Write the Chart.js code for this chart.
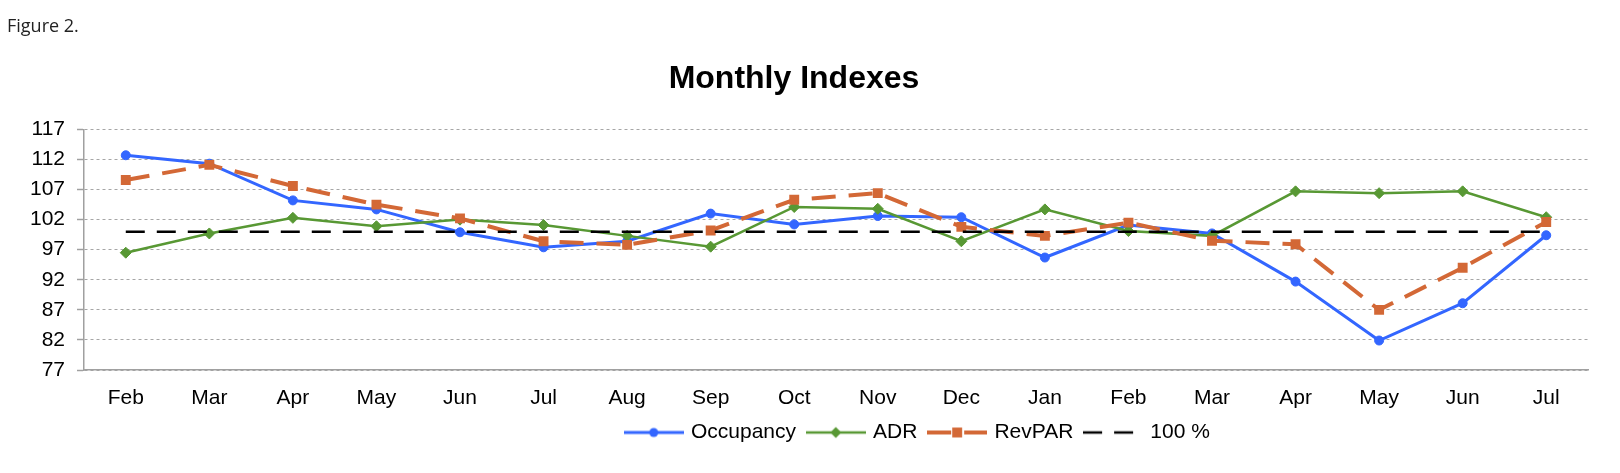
<!DOCTYPE html>
<html>
<head>
<meta charset="utf-8">
<title>Monthly Indexes</title>
<script src="https://cdn.jsdelivr.net/npm/chart.js@4.4.1/dist/chart.umd.min.js"></script>
<style>
    body { margin: 0; background: #fff; }
    #wrap { position: relative; width: 1620px; height: 473px; }
    #caption {
        position: absolute; left: 7px; top: 13px;
        font-family: "Open Sans", "Noto Sans", sans-serif; font-size: 18px; color: #222;
    }
</style>
</head>
<body>
<div id="wrap">
    <canvas id="indexChart"></canvas>
    <div id="caption">Figure 2.</div>
</div>
<script>
const months = ["Feb", "Mar", "Apr", "May", "Jun", "Jul", "Aug", "Sep", "Oct", "Nov", "Dec", "Jan", "Feb", "Mar", "Apr", "May", "Jun", "Jul"];

const occupancy = [112.7, 111.3, 105.2, 103.7, 99.9, 97.4, 98.4, 103.0, 101.2, 102.6, 102.4, 95.7, 101.1, 99.7, 91.7, 81.9, 88.1, 99.4];
const adr = [96.5, 99.7, 102.3, 100.9, 102.0, 101.1, 99.3, 97.5, 104.1, 103.8, 98.4, 103.7, 100.1, 99.3, 106.7, 106.4, 106.7, 102.4];
const revpar = [108.6, 111.1, 107.6, 104.5, 102.2, 98.4, 97.8, 100.2, 105.3, 106.4, 100.8, 99.3, 101.5, 98.5, 97.9, 87.0, 94.0, 101.6];
const hundred = [100, 100, 100, 100, 100, 100, 100, 100, 100, 100, 100, 100, 100, 100, 100, 100, 100, 100];

const yTicks = { min: 77, max: 117, step: 5 };

const FONT = "'Liberation Sans', Arial, sans-serif";
const legendLeft = 614;

const datasets = [
    {
        label: "Occupancy", data: occupancy,
        borderColor: "#3366ff", backgroundColor: "#3366ff", borderWidth: 3,
        pointStyle: "circle", pointRadius: 4.5, pointBorderWidth: 1,
        order: 4
    },
    {
        label: "ADR", data: adr,
        borderColor: "#589834", backgroundColor: "#589834", borderWidth: 2.5,
        pointStyle: "rectRot", pointRadius: 5.5, pointBorderWidth: 1,
        order: 3
    },
    {
        label: "RevPAR", data: revpar,
        borderColor: "#d36836", backgroundColor: "#d36836", borderWidth: 4,
        borderDash: [24, 13],
        pointStyle: "rect", pointRadius: 7, pointBorderWidth: 0,
        order: 2
    },
    {
        label: "100 %", data: hundred,
        borderColor: "#000", backgroundColor: "#000", borderWidth: 2.5,
        borderDash: [19, 12],
        pointRadius: 0,
        order: 1
    }
];

datasets.forEach(ds => { ds.tension = 0; ds.fill = false; ds.pointHoverRadius = ds.pointRadius; });


// small canvas with line + marker, used as legend symbol
function makeIcon(ds) {
    const c = document.createElement("canvas");
    c.width = 60;
    c.height = 16;
    const ctx = c.getContext("2d");
    ctx.strokeStyle = ds.borderColor;
    ctx.fillStyle = ds.backgroundColor;
    ctx.lineWidth = ds.borderWidth;
    ctx.setLineDash(ds.borderDash || []);
    ctx.beginPath();
    ctx.moveTo(0, 8);
    ctx.lineTo(60, 8);
    ctx.stroke();
    ctx.setLineDash([]);
    if (ds.pointRadius > 0) {
        Chart.helpers.drawPoint(ctx, {
            pointStyle: ds.pointStyle, radius: ds.pointRadius, rotation: 0, borderWidth: 0
        }, 30, 8);
    }
    return c;
}

const shiftLegend = {
    id: "shiftLegend",
    afterLayout(chart) {
        const lg = chart.legend;
        const dx = legendLeft - lg.left;
        lg.left += dx;
        lg.right += dx;
    }
};

const chart = new Chart(document.getElementById("indexChart"), {
    type: "line",
    data: { labels: months, datasets: datasets },
    plugins: [shiftLegend],
    options: {
        responsive: true,
        maintainAspectRatio: false,
        animation: false,
        layout: { padding: { left: 0, right: 32, top: 0, bottom: 20 } },
        plugins: {
            title: {
                display: true,
                text: "Monthly Indexes",
                color: "#000",
                font: { family: FONT, size: 32, weight: "bold" },
                padding: { top: 60, bottom: 31 }
            },
            legend: {
                position: "bottom",
                align: "start",
                labels: {
                    usePointStyle: true,
                    pointStyleWidth: 53.5,
                    padding: 13,
                    color: "#000",
                    font: { family: FONT, size: 21, lineHeight: 1 },
                    generateLabels(ch) {
                        return ch.data.datasets.map((ds, i) => ({
                            text: ds.label,
                            pointStyle: makeIcon(ds),
                            fontColor: "#000",
                            lineWidth: 0,
                            hidden: false,
                            datasetIndex: i
                        }));
                    }
                }
            },
            tooltip: { enabled: false }
        },
        scales: {
            x: {
                offset: true,
                grid: { display: false },
                border: { display: true, color: "#a0a0a0", width: 1.5 },
                ticks: {
                    color: "#000", padding: 10, maxRotation: 0, autoSkip: false,
                    font: { family: FONT, size: 21, lineHeight: 1 }
                },
                afterFit(scale) { scale.height -= 10; }
            },
            y: {
                min: yTicks.min,
                max: yTicks.max,
                grid: {
                    color: "#a6a6a6", lineWidth: 1,
                    drawTicks: true, tickLength: 7,
                    tickColor: "#a0a0a0", tickBorderDash: [], tickWidth: 1.5
                },
                border: { display: true, color: "#a0a0a0", width: 1.5, dash: [3, 3] },
                ticks: {
                    stepSize: yTicks.step, color: "#000", padding: 12,
                    font: { family: FONT, size: 21 }
                },
                afterFit(scale) { scale.width = 84; }
            }
        }
    }
});
</script>
</body>
</html>
